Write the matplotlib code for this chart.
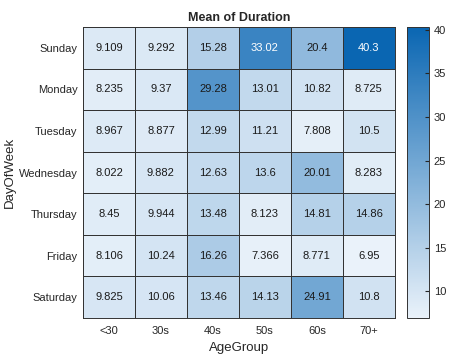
import numpy as np
import matplotlib.pyplot as plt
from matplotlib.colors import LinearSegmentedColormap

plt.rcParams['font.family'] = ['Liberation Sans', 'DejaVu Sans']

days = ["Sunday", "Monday", "Tuesday", "Wednesday", "Thursday", "Friday", "Saturday"]
ages = ["<30", "30s", "40s", "50s", "60s", "70+"]

sunday = [9.109, 9.292, 15.28, 33.02, 20.4, 40.3]
monday = [8.235, 9.37, 29.28, 13.01, 10.82, 8.725]
tuesday = [8.967, 8.877, 12.99, 11.21, 7.808, 10.5]
wednesday = [8.022, 9.882, 12.63, 13.6, 20.01, 8.283]
thursday = [8.45, 9.944, 13.48, 8.123, 14.81, 14.86]
friday = [8.106, 10.24, 16.26, 7.366, 8.771, 6.95]
saturday = [9.825, 10.06, 13.46, 14.13, 24.91, 10.8]

labels = ["9.109", "9.292", "15.28", "33.02", "20.4", "40.3",
          "8.235", "9.37", "29.28", "13.01", "10.82", "8.725",
          "8.967", "8.877", "12.99", "11.21", "7.808", "10.5",
          "8.022", "9.882", "12.63", "13.6", "20.01", "8.283",
          "8.45", "9.944", "13.48", "8.123", "14.81", "14.86",
          "8.106", "10.24", "16.26", "7.366", "8.771", "6.95",
          "9.825", "10.06", "13.46", "14.13", "24.91", "10.8"]

def makePlot(data):
    cmap = LinearSegmentedColormap.from_list("blues", ["#eaf2fa", "#0a66b2"])
    fig = plt.figure(figsize=(4.74, 3.55), dpi=100)
    ax = fig.add_axes([0.175, 0.104, 0.658, 0.82])
    cax = fig.add_axes([0.859, 0.104, 0.046, 0.82])
    vmin, vmax = data.min(), data.max()
    im = ax.pcolormesh(data, cmap=cmap, vmin=vmin, vmax=vmax,
                       edgecolor="#333333", linewidth=0.7)
    ax.invert_yaxis()
    nr, nc = data.shape
    for i in range(nr):
        for j in range(nc):
            color = "white" if data[i, j] > 31 else "#1a1a1a"
            ax.text(j + 0.5, i + 0.5, labels[i * nc + j], ha="center", va="center",
                    fontsize=8, color=color)
    ax.set_xticks(np.arange(nc) + 0.5)
    ax.set_xticklabels(ages)
    ax.set_yticks(np.arange(nr) + 0.5)
    ax.set_yticklabels(days)
    ax.tick_params(length=0, labelsize=8, colors="#262626", pad=6)
    ax.tick_params(axis="y", pad=4)
    for s in ax.spines.values():
        s.set_color("#333333")
        s.set_linewidth(0.7)
    ax.set_xlabel("AgeGroup", fontsize=9.5, color="#262626")
    ax.set_ylabel("DayOfWeek", fontsize=9.5, color="#262626")
    ax.yaxis.set_label_coords(-0.214, 0.5)
    ax.set_title("Mean of Duration", fontsize=9, fontweight="bold", color="#262626", pad=4)
    cb = fig.colorbar(im, cax=cax, ticks=[10, 15, 20, 25, 30, 35, 40])
    cb.outline.set_edgecolor("#333333")
    cb.outline.set_linewidth(0.7)
    cb.ax.tick_params(labelsize=8, colors="#262626", length=3, direction="in")
    fig.savefig("out.png", dpi=100)

def main():
    data = np.array([sunday, monday, tuesday, wednesday, thursday, friday, saturday])
    makePlot(data)

main()
